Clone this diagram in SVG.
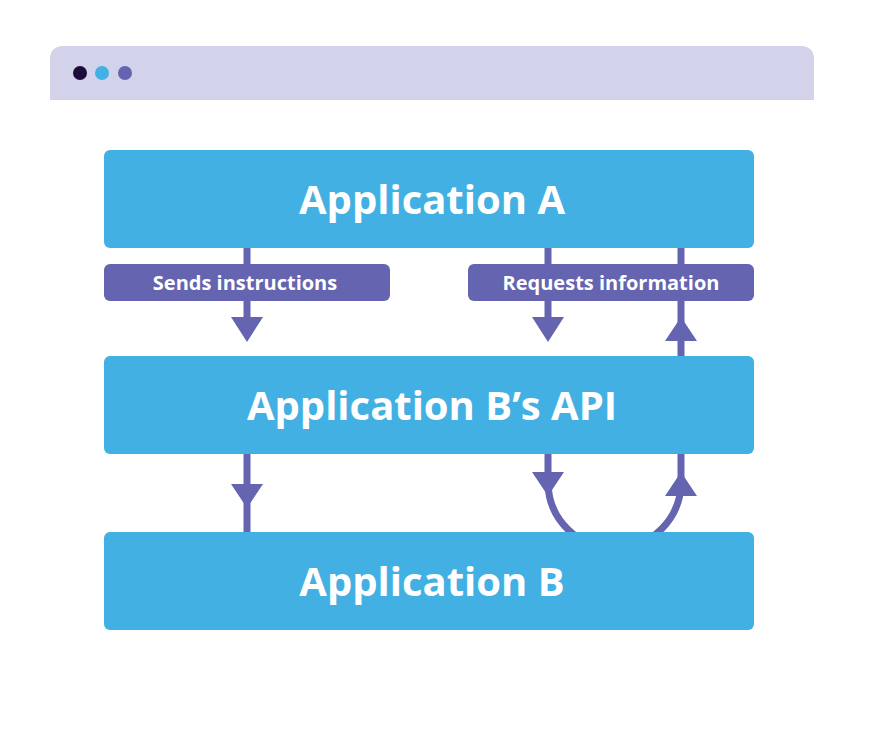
<svg xmlns="http://www.w3.org/2000/svg" width="875" height="730" viewBox="0 0 875 730">
<style>
.box{fill:#43b0e3}
.lbl{fill:#6464b0}
.t{font-family:"Open Sans","Noto Sans",sans-serif;font-weight:bold;fill:#fff;text-anchor:middle}
.ln{stroke:#6464b0;stroke-width:7;fill:none}
.ah{fill:#6464b0}
</style>
<rect width="875" height="730" fill="#fff"/>
<g id="window">
<path d="M50 100 V58 a12 12 0 0 1 12 -12 H802 a12 12 0 0 1 12 12 V100 Z" fill="#d2d2ea"/>
<circle cx="80" cy="73" r="7" fill="#1d0c3a"/>
<circle cx="102" cy="73" r="7" fill="#43b0e3"/>
<circle cx="125" cy="73" r="7" fill="#6464b0"/>
</g>
<g id="connectors">
<line class="ln" x1="247" y1="248" x2="247" y2="320"/>
<polygon class="ah" points="231,317 263,317 247,342"/>
<line class="ln" x1="548" y1="248" x2="548" y2="320"/>
<polygon class="ah" points="532,317 564,317 548,342"/>
<line class="ln" x1="681" y1="248" x2="681" y2="356"/>
<polygon class="ah" points="665,341 697,341 681,317"/>
<line class="ln" x1="247" y1="454" x2="247" y2="532"/>
<polygon class="ah" points="231,484 263,484 247,508"/>
<path class="ln" d="M548 454 V482 A66.5 66.5 0 0 0 681 482 V454"/>
<polygon class="ah" points="532,472 564,472 548,496"/>
<polygon class="ah" points="665,496 697,496 681,472"/>
</g>
<g id="appA"><rect class="box" x="104" y="150" width="650" height="98" rx="6"/><text class="t" x="432" y="214" font-size="40">Application A</text></g>
<g id="api"><rect class="box" x="104" y="356" width="650" height="98" rx="6"/><text class="t" x="432" y="420" font-size="40">Application B’s API</text></g>
<g id="appB"><rect class="box" x="104" y="532" width="650" height="98" rx="6"/><text class="t" x="432" y="596" font-size="40">Application B</text></g>
<g id="sends"><rect class="lbl" x="104" y="264" width="286" height="37" rx="6"/><text class="t" x="245" y="290" font-size="20">Sends instructions</text></g>
<g id="requests"><rect class="lbl" x="468" y="264" width="286" height="37" rx="6"/><text class="t" x="611" y="290" font-size="20">Requests information</text></g>
</svg>
